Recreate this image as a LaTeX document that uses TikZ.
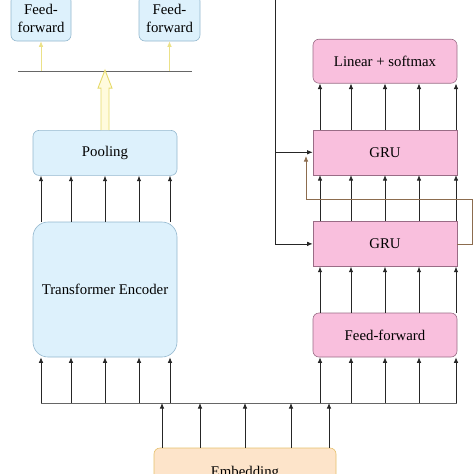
\documentclass[tikz,border=0pt]{standalone}
\usepackage{fontspec}
\setmainfont{Liberation Serif}
\usetikzlibrary{arrows.meta,positioning}

\begin{document}
\begin{tikzpicture}[
  x=1pt, y=-1pt,
  font=\fontsize{14.8}{18}\selectfont,
  >={Latex[length=5.5pt,width=4.5pt]},
  box/.style={draw, line width=.6pt, minimum width=144pt, minimum height=45pt,
    align=center, inner sep=2pt},
  enc/.style={box, draw=encline, fill=encfill, rounded corners=6pt},
  dec/.style={box, draw=decline, fill=decfill},
  arrow/.style={->, draw=black!85, line width=.8pt},
  split/.style={draw=black!60, line width=.9pt},
  thin/.style={->, draw=yellowline!80, line width=.7pt},
  hollow/.style={draw=yellowline, fill=yellowfill, line width=.9pt, line join=miter},
  feedback/.style={->, draw=brownline, line width=.8pt}
]
\definecolor{encfill}{HTML}{DDF1FC}
\definecolor{encline}{HTML}{93B7CE}
\definecolor{decfill}{HTML}{F9BFDD}
\definecolor{decline}{HTML}{9A6C86}
\definecolor{embfill}{HTML}{FDE4CA}
\definecolor{embline}{HTML}{E6C06C}
\definecolor{yellowline}{HTML}{E6DA6A}
\definecolor{yellowfill}{HTML}{FFFBDD}
\definecolor{brownline}{HTML}{8C6C4E}

\useasboundingbox (0,0) rectangle (474,474);

% encoder side
\node[enc, minimum height=135pt, rounded corners=15pt] (encoder) at (105,289.5)
  {Transformer Encoder};
\node[enc, above=46pt of encoder] (pool) {Pooling};
\node[enc, minimum width=60pt, minimum height=46pt] (ffl) at (41,18) {Feed-\\forward};
\node[enc, minimum width=61pt, minimum height=46pt] (ffr) at (169.5,18) {Feed-\\forward};

% decoder side
\node[dec, rounded corners=6pt, minimum height=44pt] (ff) at (385,335) {Feed-forward};
\node[dec, above=46pt of ff] (gru1) {GRU};
\node[dec, above=46pt of gru1] (gru2) {GRU};
\node[dec, rounded corners=6pt, minimum height=44pt, above=46pt of gru2] (lin)
  {Linear + softmax};

\node[box, draw=embline, fill=embfill, rounded corners=6pt, minimum width=182pt,
  minimum height=50pt] (emb) at (245,473) {Embedding};

% bus lines
\coordinate (busl) at (41,403);
\coordinate (busr) at (457,403);
\draw[split] (busl) -- (busr);
\coordinate (splitl) at (18,71);
\coordinate (splitr) at (192,71);
\draw[split] (splitl) -- (splitr);

\foreach \x in {162,200,245,291,329}
  \draw[arrow] (\x,0 |- emb.north) -- (\x,0 |- busl);
\foreach \x in {41,71,105,139,170} {
  \draw[arrow] (\x,0 |- busl) -- (\x,0 |- encoder.south);
  \draw[arrow] (\x,0 |- encoder.north) -- (\x,0 |- pool.south);
}
\foreach \x in {320,351,385,419,456} {
  \draw[arrow] (\x,0 |- busl) -- (\x,0 |- ff.south);
  \draw[arrow] (\x,0 |- ff.north) -- (\x,0 |- gru1.south);
  \draw[arrow] (\x,0 |- gru1.north) -- (\x,0 |- gru2.south);
  \draw[arrow] (\x,0 |- gru2.north) -- (\x,0 |- lin.south);
}

% pooled output
\draw[hollow] (pool.north) ++(-4,0) -- ++(0,-42) -- ++(-3,0) -- ++(7,-18)
  -- ++(7,18) -- ++(-3,0) -- ++(0,42);
\draw[thin] (ffl.south |- splitl) -- (ffl.south);
\draw[thin] (ffr.south |- splitl) -- (ffr.south);

% context into the GRUs
\coordinate (ctx) at (275,-5);
\draw[arrow] (ctx) |- (gru1.west);
\draw[arrow] (ctx |- gru2.west) -- (gru2.west);

% recurrent feedback
\coordinate (fbr) at (472,199);
\coordinate (fbend) at (306,156);
\draw[feedback] (gru1.east) -| (fbr) -| (fbend);
\end{tikzpicture}
\end{document}
